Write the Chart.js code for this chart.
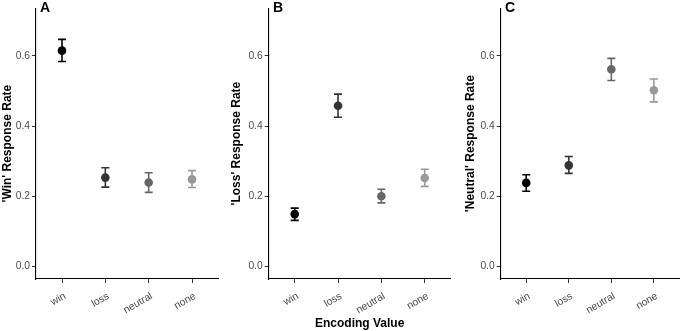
<!DOCTYPE html>
<html><head><meta charset="utf-8">
<script src="https://cdn.jsdelivr.net/npm/chart.js@4/dist/chart.umd.min.js"></script>
<style>
html,body{margin:0;padding:0;background:#fff;}
#wrap{position:relative;width:685px;height:331px;overflow:hidden;font-family:"Liberation Sans",Arial,sans-serif;}
canvas{position:absolute;top:0;}
.lab{position:absolute;top:0;font-weight:bold;font-size:14px;line-height:14px;color:#000;}
</style></head><body>
<div id="wrap">
<canvas id="cA" width="228" height="331" style="left:0px"></canvas>
<canvas id="cB" width="228" height="331" style="left:229px"></canvas>
<canvas id="cC" width="222" height="331" style="left:463px"></canvas>
<div class="lab" style="left:40px">A</div>
<div class="lab" style="left:273px">B</div>
<div class="lab" style="left:505px">C</div>
</div>
<script>
const categories = ['win', 'loss', 'neutral', 'none'];
const yTicks = [0, 0.2, 0.4, 0.6];

const winMean = [0.615, 0.253, 0.239, 0.248];
const winLow  = [0.584, 0.226, 0.211, 0.225];
const winHigh = [0.647, 0.281, 0.267, 0.273];

const lossMean = [0.149, 0.458, 0.200, 0.252];
const lossLow  = [0.131, 0.425, 0.181, 0.228];
const lossHigh = [0.166, 0.491, 0.220, 0.277];

const neutralMean = [0.238, 0.288, 0.562, 0.502];
const neutralLow  = [0.214, 0.265, 0.530, 0.469];
const neutralHigh = [0.261, 0.313, 0.593, 0.534];

const colors = ['#000000', '#333333', '#666666', '#999999'];
const FAM = '"Liberation Sans", Arial, sans-serif';

function makePanel(id, yTitle, mean, low, high, yWidth, rightPad, showXTitle) {
  const datasets = [];
  categories.forEach((c, i) => {
    datasets.push({
      type: 'scatter', showLine: true,
      data: [{x: i, y: low[i]}, {x: i, y: high[i]}],
      borderColor: colors[i], borderWidth: 1.6,
      pointStyle: 'line', pointRadius: 4, pointHoverRadius: 4,
      pointBorderColor: colors[i], pointBorderWidth: 1.6,
      order: 1
    });
  });
  datasets.push({
    type: 'scatter',
    data: mean.map((v, i) => ({x: i, y: v})),
    pointRadius: 4.3, pointHoverRadius: 4.3,
    pointBackgroundColor: colors, pointBorderColor: colors, pointBorderWidth: 0,
    order: 0
  });
  const gridCfg = {display: true, drawOnChartArea: false, drawTicks: true, tickLength: 4, tickColor: '#333', tickWidth: 1};
  const borderCfg = {display: true, color: '#000', width: 1.1};
  new Chart(document.getElementById(id), {
    type: 'scatter',
    data: {datasets},
    options: {
      responsive: false, animation: false, devicePixelRatio: 1,
      layout: {padding: {left: 0, right: rightPad, top: 0, bottom: 0}},
      plugins: {legend: {display: false}, tooltip: {enabled: false}},
      scales: {
        x: {
          type: 'linear', min: -0.6, max: 3.6,
          afterBuildTicks: s => { s.ticks = categories.map((c, i) => ({value: i})); },
          afterFit: s => { s.height = 52; },
          ticks: {callback: v => categories[v], minRotation: 30, maxRotation: 30, autoSkip: false,
                  font: {size: 10.3, family: FAM}, color: '#4d4d4d', padding: 7, labelOffset: 3},
          grid: gridCfg, border: borderCfg,
          title: {display: showXTitle, text: 'Encoding Value', color: '#000',
                  font: {size: 12, weight: 'bold', family: FAM}, padding: {top: 0, bottom: 0}}
        },
        y: {
          type: 'linear', min: -0.036, max: 0.736,
          afterBuildTicks: s => { s.ticks = yTicks.map(v => ({value: v})); },
          afterFit: s => { s.width = yWidth; },
          ticks: {callback: v => Number(v).toFixed(1), font: {size: 10.3, family: FAM}, color: '#4d4d4d', padding: 2},
          grid: gridCfg, border: borderCfg,
          title: {display: true, text: yTitle, color: '#000',
                  font: {size: 12, weight: 'bold', family: FAM}, padding: {top: 0, bottom: 0}}
        }
      }
    }
  });
}

makePanel('cA', "'Win' Response Rate", winMean, winLow, winHigh, 36, 10, false);
makePanel('cB', "'Loss' Response Rate", lossMean, lossLow, lossHigh, 39.7, 6.3, true);
makePanel('cC', "'Neutral' Response Rate", neutralMean, neutralLow, neutralHigh, 37.7, 1, false);
</script>
</body></html>
